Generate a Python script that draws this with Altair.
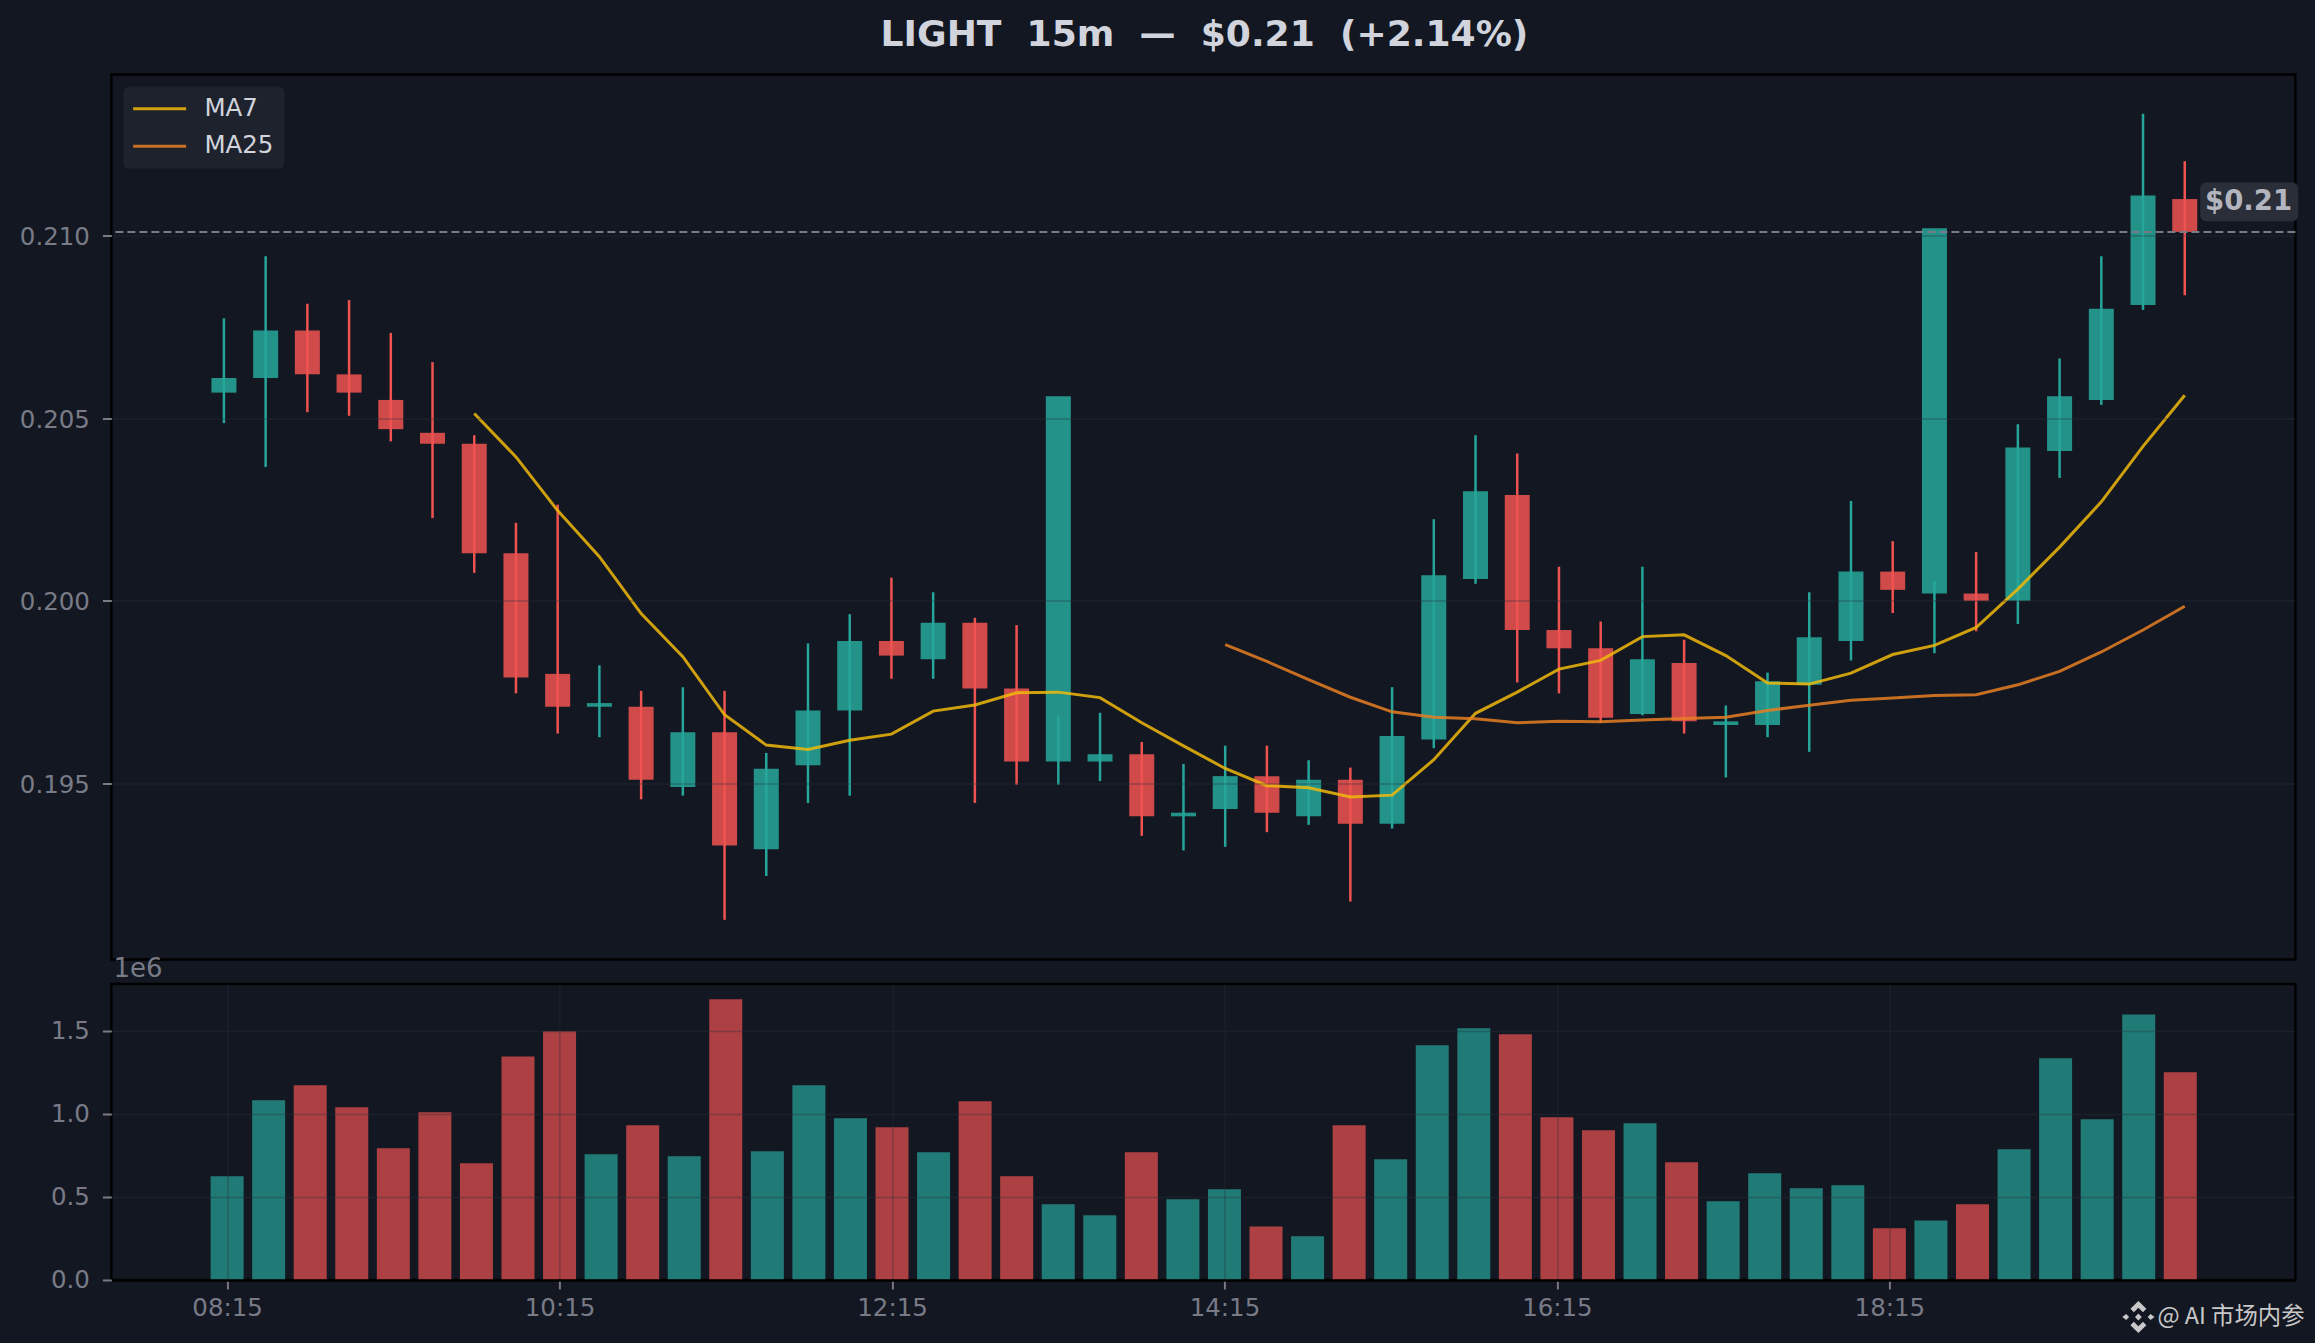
import altair as alt
import pandas as pd

BG = "#131722"
TEAL = "#26a69a"
RED = "#ef5350"
TICK = "#787b86"
FONT = "DejaVu Sans"

opens = [0.2057,0.2061,0.2074,0.2062,0.2055,0.2046,0.2043,0.2013,0.1980,0.1971,0.1971,0.1949,
         0.1964,0.1932,0.1955,0.1970,0.1989,0.1984,0.1994,0.1976,0.1956,0.1956,0.1958,0.1941,
         0.1943,0.1952,0.1941,0.1951,0.1939,0.1962,0.2006,0.2029,0.1992,0.1987,0.1969,0.1983,
         0.1966,0.1966,0.1977,0.1989,0.2008,0.2002,0.2002,0.2000,0.2041,0.2055,0.2081,0.2110]
closes = [0.2061,0.2074,0.2062,0.2057,0.2047,0.2043,0.2013,0.1979,0.1971,0.1972,0.1951,0.1964,
          0.1933,0.1954,0.1970,0.1989,0.1985,0.1994,0.1976,0.1956,0.2056,0.1958,0.1941,0.1942,
          0.1952,0.1942,0.1951,0.1939,0.1963,0.2007,0.2030,0.1992,0.1987,0.1968,0.1984,0.1967,
          0.1967,0.1978,0.1990,0.2008,0.2003,0.2102,0.2000,0.2042,0.2056,0.2080,0.2111,0.2101]
highs = [0.2077,0.2094,0.2081,0.2082,0.2073,0.2065,0.2045,0.2021,0.2026,0.1982,0.1975,0.1976,
         0.1975,0.1958,0.1988,0.1996,0.2006,0.2002,0.1995,0.1993,0.1968,0.1969,0.1961,0.1955,
         0.1960,0.1960,0.1956,0.1954,0.1976,0.2022,0.2045,0.2040,0.2009,0.1994,0.2009,0.1989,
         0.1971,0.1980,0.2002,0.2027,0.2016,0.2005,0.2013,0.2048,0.2066,0.2094,0.2133,0.2120]
lows = [0.2049,0.2037,0.2052,0.2051,0.2044,0.2023,0.2008,0.1975,0.1964,0.1963,0.1946,0.1947,
        0.1913,0.1925,0.1945,0.1947,0.1979,0.1979,0.1945,0.1950,0.1950,0.1951,0.1936,0.1932,
        0.1933,0.1937,0.1939,0.1918,0.1938,0.1960,0.2005,0.1978,0.1975,0.1967,0.1969,0.1964,
        0.1952,0.1963,0.1959,0.1984,0.1997,0.1986,0.1992,0.1994,0.2034,0.2054,0.2080,0.2084]
volumes = [625000,1082000,1173000,1040000,793000,1010000,703000,1347000,1498000,757000,932000,745000,
           1691000,775000,1173000,974000,920000,769000,1076000,625000,456000,390000,769000,486000,
           546000,323000,263000,932000,727000,1414000,1516000,1480000,980000,902000,944000,709000,
           474000,643000,552000,570000,311000,359000,456000,787000,1335000,968000,1600000,1251000]
ma7 = [0.20513,0.20394,0.20247,0.20121,0.19965,0.19847,0.19688,0.19605,0.19593,0.19618,0.19635,
       0.19698,0.19715,0.19748,0.19750,0.19735,0.19666,0.19603,0.19541,0.19494,0.19488,0.19463,
       0.19468,0.19565,0.19692,0.19750,0.19813,0.19837,0.19902,0.19907,0.19850,0.19775,0.19772,
       0.19802,0.19853,0.19878,0.19927,0.20032,0.20147,0.20271,0.20423,0.20563]
ma25 = [0.19880,0.19834,0.19784,0.19736,0.19696,0.19681,0.19677,0.19666,0.19670,0.19669,0.19674,
        0.19678,0.19681,0.19700,0.19714,0.19728,0.19734,0.19741,0.19743,0.19770,0.19807,0.19860,
        0.19920,0.19985]
MA7_START = 6
MA25_START = 24
LAST_PRICE = 0.2101
TICK_LABELS = ["08:15", "10:15", "12:15", "14:15", "16:15", "18:15"]
TICK_INDEX = [0, 8, 16, 24, 32, 40]
PRICE_TICKS = [0.195, 0.200, 0.205, 0.210]
VOL_TICKS = [0, 500000, 1000000, 1500000]
TITLE = "LIGHT\u00a0\u00a015m\u00a0\u00a0—\u00a0\u00a0$0.21\u00a0\u00a0(+2.14%)"
X_MAIN = [-2.697, 49.652]
X_VOL = [-2.784, 49.77]
Y_MAIN = [0.19018, 0.21441]
Y_VOL = [0, 1783000]

W = 2184
H_MAIN = 885
H_VOL = 296
GRID = dict(grid=True, gridColor="#2a2e39", gridOpacity=0.35, gridWidth=1.5, zindex=1)

df = pd.DataFrame({"i": range(48), "open": opens, "close": closes, "high": highs, "low": lows, "volume": volumes})
up = alt.datum.close >= alt.datum.open
ma_df = pd.concat([
    pd.DataFrame({"i": range(MA7_START, MA7_START + len(ma7)), "v": ma7, "s": "MA7"}),
    pd.DataFrame({"i": range(MA25_START, MA25_START + len(ma25)), "v": ma25, "s": "MA25"}),
])

xm = alt.X("i:Q", scale=alt.Scale(domain=X_MAIN, nice=False, zero=False, padding=0), axis=None)
ym = alt.Y("low:Q", scale=alt.Scale(domain=Y_MAIN, nice=False, zero=False), title=None,
           axis=alt.Axis(values=PRICE_TICKS, format=".3f", domain=False, tickColor=TICK, tickWidth=2, tickSize=9,
                         labelColor=TICK, labelFont=FONT, labelFontSize=24.5, labelPadding=13, labelOffset=2, **GRID))

base = alt.Chart(df)
wicks = base.mark_rule(strokeWidth=2.5, strokeCap="square").encode(
    x=xm, y=ym, y2="high:Q", color=alt.condition(up, alt.value(TEAL), alt.value(RED)))
bodies = base.mark_bar(size=25, opacity=0.86, orient="vertical").encode(
    x=alt.X("i:Q"), y=alt.Y("open:Q"), y2="close:Q", color=alt.condition(up, alt.value(TEAL), alt.value(RED)))

lines = alt.Chart(ma_df).mark_line(strokeWidth=3, opacity=0.85).encode(
    x=alt.X("i:Q"), y=alt.Y("v:Q"),
    color=alt.Color("s:N", scale=alt.Scale(domain=["MA7", "MA25"], range=["#f0b90b", "#e67e22"]),
                    legend=alt.Legend(orient="none", legendX=12, legendY=12, title=None, fillColor="#1e222d",
                                      cornerRadius=6, padding=10, symbolType="M-1,0L4.3,0", symbolSize=400,
                                      symbolOffset=-2.5, symbolStrokeWidth=3, symbolOpacity=0.85, labelFont=FONT,
                                      labelFontSize=24.5, labelColor="#d1d4dc", labelOffset=49, rowPadding=12.5)),
    order="i:Q")

last_rule = alt.Chart(pd.DataFrame({"p": [LAST_PRICE]})).mark_rule(
    color=TICK, strokeWidth=2, strokeDash=[8, 4]).encode(y=alt.Y("p:Q"))

badge_df = pd.DataFrame({"x": [47.37], "x2": [49.72], "y": [0.21039], "y2": [0.21145],
                         "tx": [48.53], "ty": [0.21092], "t": ["$0.21"]})
badge = alt.Chart(badge_df).mark_rect(fill="#2a2e39", cornerRadius=6).encode(
    x=alt.X("x:Q"), x2="x2:Q", y=alt.Y("y:Q"), y2="y2:Q")
badge_text = alt.Chart(badge_df).mark_text(font=FONT, fontSize=27.5, fontWeight="bold", color="#b2b5be").encode(
    x=alt.X("tx:Q"), y=alt.Y("ty:Q"), text="t:N")

exp_text = alt.Chart(pd.DataFrame({"t": ["1e6"]})).mark_text(
    font=FONT, fontSize=26, color=TICK, align="left", baseline="middle").encode(
    x=alt.value(2), y=alt.value(H_MAIN + 9.5), text="t:N")

main = alt.layer(wicks, bodies, lines, last_rule, badge, badge_text, exp_text).properties(width=W, height=H_MAIN)

xv = alt.X("i:Q", scale=alt.Scale(domain=X_VOL, nice=False, zero=False, padding=0), title=None,
           axis=alt.Axis(values=TICK_INDEX,
                         labelExpr="[" + ",".join(f"'{t}'" for t in TICK_LABELS) + "][datum.value / 8]",
                         domain=True, domainColor="#000000", domainWidth=2.5, tickColor=TICK, tickWidth=2, tickSize=9,
                         labelColor=TICK, labelFont=FONT, labelFontSize=24.5, labelPadding=8, **GRID))
yv = alt.Y("volume:Q", scale=alt.Scale(domain=Y_VOL, nice=False), title=None,
           axis=alt.Axis(values=VOL_TICKS, labelExpr="format(datum.value / 1000000, '.1f')",
                         domain=False, tickColor=TICK, tickWidth=2, tickSize=9, labelColor=TICK, labelFont=FONT,
                         labelFontSize=24.5, labelPadding=13, labelOffset=1, **GRID))
vol_bars = base.mark_bar(size=33, opacity=0.7, orient="vertical").encode(
    x=xv, y=yv, color=alt.condition(up, alt.value(TEAL), alt.value(RED)))

logo = ("M0,-0.95 L0.47,-0.48 L0.27,-0.28 L0,-0.55 L-0.27,-0.28 L-0.47,-0.48 Z "
        "M0,0.95 L0.47,0.48 L0.27,0.28 L0,0.55 L-0.27,0.28 L-0.47,0.48 Z "
        "M0,-0.2 L0.2,0 L0,0.2 L-0.2,0 Z "
        "M-0.72,-0.17 L-0.55,0 L-0.72,0.17 L-0.95,0 Z M0.72,-0.17 L0.95,0 L0.72,0.17 L0.55,0 Z")
wm_df = pd.DataFrame({"t": ["@ AI 市场内参"]})
wm_icon = alt.Chart(wm_df).mark_point(shape=logo, filled=True, size=1150, color="#c8c8c8", opacity=1).encode(
    x=alt.value(2027), y=alt.value(333))
wm_text = alt.Chart(wm_df).mark_text(font="Noto Sans CJK SC", fontSize=23.4, color="#c8c8c8", align="left",
                                     baseline="middle").encode(x=alt.value(2046), y=alt.value(333), text="t:N")

volume = alt.layer(vol_bars, wm_icon, wm_text).properties(width=W, height=H_VOL)

chart = alt.vconcat(main, volume, spacing=-1.5).properties(
    background=BG,
    padding={"left": 9.4, "top": 8.5, "right": 0, "bottom": 0},
    title=alt.TitleParams(text=TITLE, anchor="middle", font=FONT, fontSize=36.1, fontWeight="bold",
                          color="#d1d4dc", offset=20, dx=42.5),
).configure_view(stroke="#000000", strokeWidth=2.5)

chart.save("out.html", embed_options={"renderer": "svg", "actions": False,
                                      "defaultStyle": "html,body{background:#131722}"})
